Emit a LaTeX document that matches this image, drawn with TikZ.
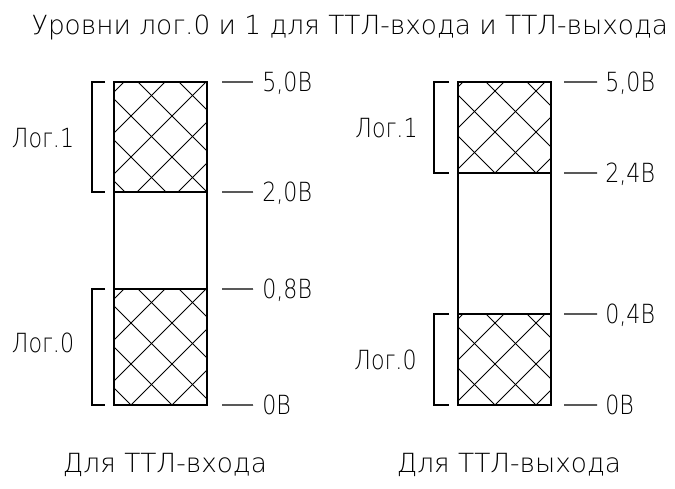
\documentclass[tikz,border=0pt]{standalone}
\usepackage{fontspec}
\setmainfont{DejaVu Sans ExtraLight}
\newfontfamily\narrowfont{DejaVu Sans ExtraLight}[FakeStretch=0.84]
\usepackage{tikz}
\usetikzlibrary{positioning}

\tikzset{
  box/.style={line width=1.1pt},
  hatchline/.style={line width=0.45pt},
  tick/.style={line width=0.8pt},
  bracket/.style={line width=0.8pt},
  txt/.style={inner sep=0pt, text depth=0pt, font=\fontsize{15}{18}\selectfont},
  lvl/.style={txt, anchor=west, font=\narrowfont\fontsize{15}{18}\selectfont}
}

% cross hatch inside a box: x0, ytop, x1, ybot, phase of / lines, phase of \ lines
\newcommand{\crosshatch}[6]{%
  \begin{scope}
    \clip (#1,#2) rectangle (#3,#4);
    \foreach \k in {-5,...,6} {
      \draw[hatchline] ({#1+#5+4.1*\k-14},{#2-14}) -- ++(16,16);
      \draw[hatchline] ({#1+#6+4.1*\k-2},{#2+2}) -- ++(16,-16);
    }
  \end{scope}}

\begin{document}
\begin{tikzpicture}[scale=0.2]
\useasboundingbox (0,0) rectangle (67.5,-48.8);

\node[txt] (title) at (35.0,-2.5) {Уровни лог.0 и 1 для ТТЛ-входа и ТТЛ-выхода};

% TTL input
\crosshatch{11.4}{-8.2}{20.7}{-19.2}{1.0}{2.4}
\crosshatch{11.4}{-28.9}{20.7}{-40.5}{1.0}{2.4}
\draw[box] (11.4,-8.2) rectangle (20.7,-40.5);
\draw[box] (11.4,-19.2) -- (20.7,-19.2);
\draw[box] (11.4,-28.9) -- (20.7,-28.9);

\node[lvl] (in50) at (26.2,-8.2) {5,0В};
\node[lvl] (in20) at (26.2,-19.2) {2,0В};
\node[lvl] (in08) at (26.2,-28.9) {0,8В};
\node[lvl] (in0) at (26.2,-40.5) {0В};
\draw[tick, shorten >=1.8mm] (22.2,-8.2) -- (in50.west);
\draw[tick, shorten >=1.8mm] (22.2,-19.2) -- (in20.west);
\draw[tick, shorten >=1.8mm] (22.2,-28.9) -- (in08.west);
\draw[tick, shorten >=1.8mm] (22.2,-40.5) -- (in0.west);

\draw[bracket] (10.5,-8.2) -- (9.2,-8.2) -- (9.2,-19.2) -- (10.5,-19.2);
\draw[bracket] (10.5,-28.9) -- (9.2,-28.9) -- (9.2,-40.5) -- (10.5,-40.5);
\node[lvl, anchor=center] (inHi) at (4.3,-13.8) {Лог.1};
\node[lvl, anchor=center] (inLo) at (4.3,-34.3) {Лог.0};

\node[txt] (inName) at (16.5,-46.3) {Для ТТЛ-входа};

% TTL output
\crosshatch{45.8}{-8.2}{55.1}{-17.3}{0.5}{2.8}
\crosshatch{45.8}{-31.4}{55.1}{-40.5}{0.5}{2.8}
\draw[box] (45.8,-8.2) rectangle (55.1,-40.5);
\draw[box] (45.8,-17.3) -- (55.1,-17.3);
\draw[box] (45.8,-31.4) -- (55.1,-31.4);

\node[lvl] (out50) at (60.5,-8.2) {5,0В};
\node[lvl] (out24) at (60.5,-17.3) {2,4В};
\node[lvl] (out04) at (60.5,-31.4) {0,4В};
\node[lvl] (out0) at (60.5,-40.5) {0В};
\draw[tick, shorten >=1.6mm] (56.4,-8.2) -- (out50.west);
\draw[tick, shorten >=1.6mm] (56.4,-17.3) -- (out24.west);
\draw[tick, shorten >=1.6mm] (56.4,-31.4) -- (out04.west);
\draw[tick, shorten >=1.6mm] (56.4,-40.5) -- (out0.west);

\draw[bracket] (44.9,-8.2) -- (43.4,-8.2) -- (43.4,-17.3) -- (44.9,-17.3);
\draw[bracket] (44.9,-31.4) -- (43.4,-31.4) -- (43.4,-40.5) -- (44.9,-40.5);
\node[lvl, anchor=center] (outHi) at (38.65,-12.8) {Лог.1};
\node[lvl, anchor=center] (outLo) at (38.55,-35.95) {Лог.0};

\node[txt] (outName) at (50.9,-46.3) {Для ТТЛ-выхода};
\end{tikzpicture}
\end{document}
